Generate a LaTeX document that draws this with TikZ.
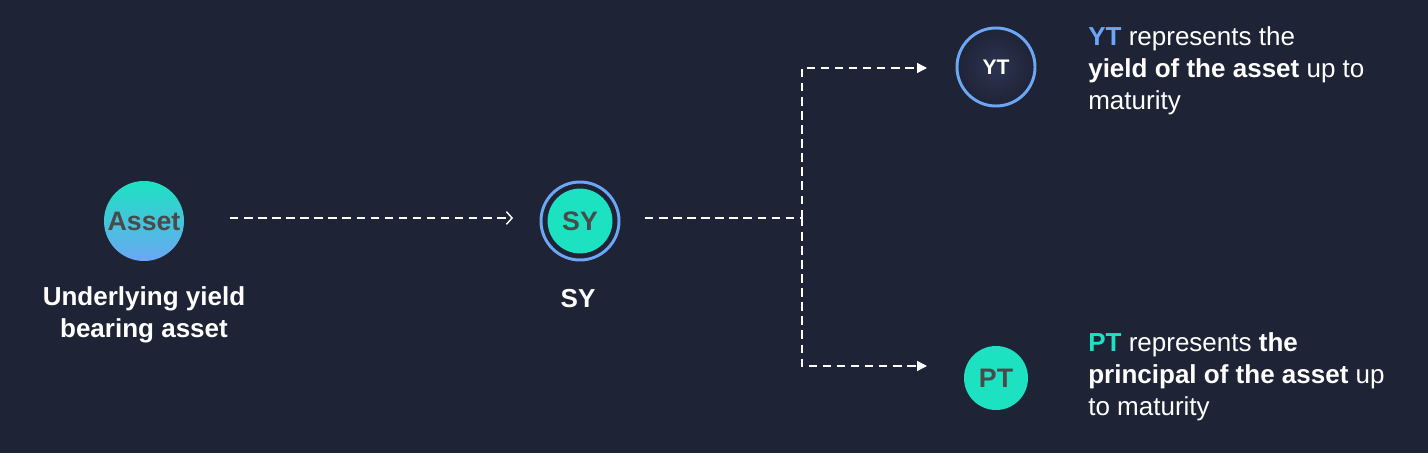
\documentclass[tikz,border=0pt]{standalone}
\usepackage{fontspec}
\setmainfont{Liberation Sans}
\usetikzlibrary{arrows.meta}
\definecolor{bgnavy}{HTML}{1F2336}
\definecolor{glow}{HTML}{2C3452}
\definecolor{mint}{HTML}{1CE2C2}
\definecolor{skyblue}{HTML}{6BA7F5}
\definecolor{ink}{HTML}{4A4A4A}
\tikzset{
  token/.style={circle, minimum size=#1, inner sep=0pt, font=\fontsize{19}{22}\selectfont\bfseries},
  flow/.style={white, line width=1pt, dash pattern=on 6pt off 4pt},
  caption/.style={white, align=center, inner sep=0pt, font=\fontsize{18.5}{22.7}\selectfont\bfseries},
  note/.style={white, align=left, anchor=west, inner sep=0pt, font=\fontsize{18.5}{22.7}\selectfont}
}
\begin{document}
\begin{tikzpicture}[x=0.025cm, y=-0.025cm]
                \fill[bgnavy] (0,0) rectangle (1428,453);
                \useasboundingbox (0,0) rectangle (1428,453);

                \node[token=2cm, top color=mint, bottom color=skyblue, text=ink] (asset) at (144,221) {Asset};
                \node[caption] (assetlbl) at (144,315) {Underlying yield\\bearing asset};

                \node[token=1.62cm, fill=mint, text=ink] (sy) at (580,221) {SY};
                \draw[skyblue, line width=2.1pt] (sy.center) circle (39);
                \node[caption] (sylbl) at (578,299) {SY};

                \node[token=1.95cm, draw=skyblue, line width=2.1pt, inner color=glow, outer color=bgnavy, text=white, font=\fontsize{15}{17}\selectfont\bfseries] (yt) at (996,67) {YT};
                \node[token=1.6cm, fill=mint, text=ink] (pt) at (996,378) {PT};

                \node[note] (ytnote) at (1088,71) {\textcolor{skyblue}{\textbf{YT}} represents the\\\textbf{yield of the asset} up to\\maturity};
                \node[note] (ptnote) at (1088,377) {\textcolor{mint}{\textbf{PT}} represents \textbf{the}\\\textbf{principal of the asset} up\\to maturity};

                \coordinate (fork) at (802,218);
                \coordinate (forkup) at (802,68);
                \coordinate (forkdown) at (802,366);

                \draw[flow, -{Straight Barb[length=4pt, width=9pt]}] (230,218) to (513,218);
                \draw[flow] (645,218) to (fork);
                \draw[flow, -{Triangle[length=7pt, width=7pt]}] (fork) to (forkup) to (927,68);
                \draw[flow, -{Triangle[length=7pt, width=7pt]}] (fork) to (forkdown) to (927,366);
            \end{tikzpicture}
\end{document}
